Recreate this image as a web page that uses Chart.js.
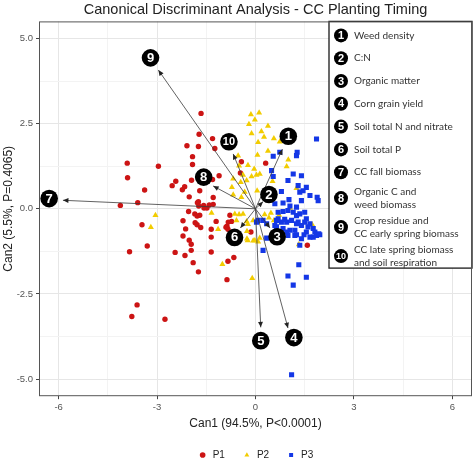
<!DOCTYPE html>
<html>
<head>
<meta charset="utf-8">
<script src="https://cdn.jsdelivr.net/npm/chart.js@4.4.1/dist/chart.umd.min.js"></script>
<style>
  html, body { margin: 0; padding: 0; background: #fff; }
</style>
</head>
<body>
<canvas id="myChart" width="474" height="462"></canvas>
<script>
// scores per planting timing, [Can1, Can2]
var p1 = [
  [-1.66, 2.80], [-1.72, 2.19], [-1.31, 2.06], [-2.09, 1.85], [-1.74, 1.83], [-1.24, 1.77], [-1.92, 1.53], [-1.92, 1.30],
  [-3.91, 1.34], [-3.90, 0.91], [-2.96, 1.25], [-1.11, 0.97], [-2.43, 0.81], [-1.95, 0.84], [-1.31, 0.86], [-2.54, 0.68],
  [-2.16, 0.65], [-2.23, 0.56], [-3.38, 0.55], [-1.70, 0.53], [-2.02, 0.35], [-1.29, 0.33], [-1.74, 0.21], [-1.58, 0.10],
  [-1.41, 0.11], [-3.59, 0.18], [-4.12, 0.10], [-1.77, 0.18], [-1.73, 0.08], [-1.57, 0.02], [-1.48, 0.02], [-1.29, 0.13],
  [-2.04, -0.08], [-1.85, -0.15], [-1.78, -0.21], [-1.70, -0.19], [-2.21, -0.35], [-1.20, -0.37], [-1.84, -0.41], [-1.78, -0.47],
  [-1.67, -0.55], [-2.13, -0.59], [-1.35, -0.60], [-3.46, -0.47], [-2.21, -0.80], [-1.35, -0.83], [-2.02, -0.92], [-1.96, -1.04],
  [-1.96, -1.22], [-3.84, -1.26], [-3.30, -1.09], [-2.45, -1.28], [-2.15, -1.37], [-1.35, -1.27], [-1.90, -1.58], [-1.74, -1.85],
  [-3.61, -2.82], [-3.77, -3.16], [-2.76, -3.24], [-0.84, -1.54], [-0.66, -1.43], [-0.87, -2.08], [-0.87, -0.51], [-0.84, -0.60],
  [-0.73, -0.37], [-0.78, -0.19], [-0.83, -0.39], [-0.90, -0.54], [-0.43, 1.38], [0.31, 1.34], [-0.46, 1.05], [-0.14, -0.68],
  [1.58, -1.07]
];
var p2 = [
  [-0.14, 2.77], [0.11, 2.82], [-0.02, 2.61], [-0.20, 2.48], [0.38, 2.43], [-0.12, 2.21], [0.18, 2.27], [0.56, 2.06],
  [0.26, 2.11], [0.08, 1.95], [0.74, 1.97], [0.38, 1.70], [0.06, 1.58], [1.00, 1.44], [0.95, 1.24], [-0.53, 1.56],
  [-0.50, 1.26], [-0.23, 1.28], [-0.04, 1.17], [-0.38, 0.99], [-0.12, 0.95], [0.03, 0.99], [0.13, 1.02], [-0.68, 0.88],
  [-0.45, 0.78], [-0.27, 0.83], [0.05, 0.53], [-0.72, 0.63], [-0.68, 0.41], [-0.43, 0.34], [-0.33, 0.49], [0.52, 0.81],
  [1.25, 0.60], [-1.34, -0.12], [-0.63, -0.15], [-0.50, -0.17], [-0.38, -0.15], [-0.27, -0.37], [-0.23, -0.45], [-0.07, -0.34],
  [0.28, -0.17], [0.41, -0.26], [0.47, -0.12], [0.56, -0.34], [-0.26, -0.88], [-0.07, -0.94], [-0.26, -0.66], [-1.14, -0.60],
  [1.05, 0.02], [0.72, -0.18], [1.30, -0.44], [-0.02, -0.93], [0.08, -0.97], [0.13, -0.86], [-0.10, -2.04], [1.32, -1.05],
  [1.73, -0.47], [-3.05, -0.19], [-3.19, -0.54], [-1.01, -1.63], [-0.58, -0.34], [-0.24, -0.93]
];
var p3 = [
  [1.86, 2.05], [1.27, 1.66], [1.25, 1.56], [0.54, 1.54], [0.74, 1.66], [0.49, 1.12], [0.54, 0.95], [0.99, 0.83],
  [1.15, 1.02], [1.40, 0.97], [0.79, 0.51], [1.02, 0.27], [1.30, 0.68], [1.35, 0.49], [1.45, 0.53], [1.55, 0.63],
  [1.88, 0.34], [1.91, 0.24], [1.66, 0.39], [0.59, 0.15], [0.84, 0.17], [1.25, 0.05], [1.40, 0.24], [1.05, 0.08],
  [0.69, -0.10], [0.84, -0.08], [0.99, -0.05], [1.15, -0.10], [1.35, -0.15], [1.50, -0.10], [1.55, -0.29], [1.25, -0.20],
  [0.08, -0.34], [0.23, -0.34], [0.64, -0.34], [0.79, -0.39], [0.95, -0.39], [1.10, -0.34], [0.69, -0.29], [0.89, -0.31],
  [1.30, -0.39], [1.50, -0.39], [1.25, -0.44], [1.40, -0.49], [1.60, -0.53], [1.76, -0.58], [1.66, -0.44], [0.34, -0.44],
  [0.03, -0.39], [0.64, -0.53], [0.84, -0.58], [1.05, -0.63], [1.20, -0.63], [0.59, -0.49], [1.55, -0.68], [1.81, -0.68],
  [0.74, -0.73], [0.99, -0.78], [1.20, -0.78], [0.95, -0.68], [1.25, -0.76], [1.48, -0.76], [1.76, -0.83], [1.96, -0.76],
  [1.86, -0.78], [1.66, -0.83], [1.93, -0.73], [1.40, -0.88], [0.34, -0.86], [0.23, -1.22], [1.35, -1.07], [1.32, -1.64],
  [0.99, -1.97], [1.55, -2.01], [1.15, -2.24], [1.10, -4.87]
];

// variable loadings (arrow tips) and where their number sits
var arrowX = [0.82, 0.23, 0.44, 0.99, 0.16, -0.46, -5.87, -1.29, -2.96, -0.68];
var arrowY = [1.75, 0.21, -0.56, -3.50, -3.48, -0.56, 0.25, 0.67, 4.07, 1.61];
var labelX = [1.00, 0.41, 0.66, 1.17, 0.16, -0.64, -6.29, -1.58, -3.20, -0.81];
var labelY = [2.13, 0.42, -0.82, -3.78, -3.87, -0.84, 0.30, 0.93, 4.43, 1.97];
var varNames = [
  'Weed density', 'C:N', 'Organic matter', 'Corn grain yield', 'Soil total N and nitrate',
  'Soil total P', 'CC fall biomass', 'Organic C and\nweed biomass',
  'Crop residue and\nCC early spring biomass', 'CC late spring biomass\nand soil respiration'
];

var xTicks = [-6, -4.5, -3, -1.5, 0, 1.5, 3, 4.5, 6];
var xMajor = [-6, -3, 0, 3, 6];
var yTicks = [-5, -3.75, -2.5, -1.25, 0, 1.25, 2.5, 3.75, 5];
var yMajor = [-5, -2.5, 0, 2.5, 5];

Chart.defaults.font.family = "'Liberation Sans', Arial, sans-serif";

function toPoints(list) {
  return list.map(function (p) { return {x: p[0], y: p[1]}; });
}

var datasets = [
  {label: 'P1', data: toPoints(p1), pointStyle: 'circle', pointRadius: 2.7, backgroundColor: '#cc1414', borderWidth: 0, order: 3},
  {label: 'P2', data: toPoints(p2), pointStyle: 'triangle', pointRadius: 3.5, backgroundColor: '#f2cc00', borderWidth: 0, order: 2},
  {label: 'P3', data: toPoints(p3), pointStyle: 'rect', pointRadius: 3.6, backgroundColor: '#1437e6', borderWidth: 0, order: 1}
];
arrowX.forEach(function (x, i) {
  datasets.push({
    label: 'arrow' + (i + 1), isArrow: true,
    data: [{x: 0, y: 0}, {x: x, y: arrowY[i]}],
    showLine: true, borderColor: '#3a3a3a', borderWidth: 0.8, pointRadius: 0, order: 0
  });
});
datasets.push({
  label: 'numbers', isLabel: true,
  data: labelX.map(function (x, i) { return {x: x, y: labelY[i]}; }),
  pointStyle: 'circle', pointRadius: 8.8, backgroundColor: '#000', borderWidth: 0, order: -1
});

var overlay = {
  id: 'overlay',
  afterDatasetsDraw: function (chart) {
    var c = chart.ctx;
    c.save();
    chart.data.datasets.forEach(function (ds, i) {
      var meta = chart.getDatasetMeta(i);
      if (ds.isArrow) {
        var a = meta.data[0], b = meta.data[1];
        var ang = Math.atan2(b.y - a.y, b.x - a.x);
        c.fillStyle = '#222';
        c.beginPath();
        c.moveTo(b.x, b.y);
        c.lineTo(b.x - 6 * Math.cos(ang - 0.42), b.y - 6 * Math.sin(ang - 0.42));
        c.lineTo(b.x - 6 * Math.cos(ang + 0.42), b.y - 6 * Math.sin(ang + 0.42));
        c.closePath();
        c.fill();
      }
      if (ds.isLabel) {
        c.fillStyle = '#fff';
        c.textAlign = 'center';
        c.textBaseline = 'middle';
        meta.data.forEach(function (pt, k) {
          c.font = 'bold ' + (k === 9 ? 11 : 13) + "px 'Liberation Sans', Arial";
          c.fillText(String(k + 1), pt.x, pt.y + 0.5);
        });
      }
    });
    c.restore();
  },
  afterDraw: function (chart) {
    var c = chart.ctx;
    var area = chart.chartArea;
    c.save();
    // key box for the numbered variables
    var boxW = 143;
    var L = area.right - boxW, T = area.top;
    var centers = [], y = T + 14, prevH = 0;
    varNames.forEach(function (name, i) {
      var h = name.indexOf('\n') >= 0 ? 29 : 22.8;
      if (i > 0) y += (prevH + h) / 2;
      centers.push(y);
      prevH = h;
    });
    var B = centers[centers.length - 1] + 12;
    c.fillStyle = '#fff';
    c.fillRect(L, T, boxW, B - T);
    c.strokeStyle = '#1a1a1a';
    c.lineWidth = 1.3;
    c.strokeRect(L, T, boxW, B - T);
    varNames.forEach(function (name, i) {
      var cy = centers[i];
      c.fillStyle = '#000';
      c.beginPath();
      c.arc(L + 12, cy, 7, 0, Math.PI * 2);
      c.fill();
      c.fillStyle = '#fff';
      c.textAlign = 'center';
      c.textBaseline = 'middle';
      c.font = 'bold ' + (i === 9 ? 9 : 11) + "px 'Liberation Sans', Arial";
      c.fillText(String(i + 1), L + 12, cy + 0.5);
      var lines = name.split('\n');
      c.fillStyle = '#333';
      c.textAlign = 'left';
      c.font = "10px Lato, 'Open Sans', sans-serif";
      lines.forEach(function (ln, k) {
        c.fillText(ln, L + 25, cy - (lines.length - 1) * 6.5 + k * 13);
      });
    });
    // panel border
    c.strokeStyle = '#555';
    c.lineWidth = 1;
    c.strokeRect(area.left + 0.5, area.top + 0.5, area.right - area.left - 1, area.bottom - area.top - 1);
    c.restore();
  }
};

function isIn(list, v) {
  return list.some(function (m) { return Math.abs(m - v) < 1e-6; });
}

var ctx = document.getElementById('myChart').getContext('2d');
var myChart = new Chart(ctx, {
  type: 'scatter',
  data: { datasets: datasets },
  plugins: [overlay],
  options: {
    responsive: false,
    animation: false,
    events: [],
    layout: { autoPadding: false, padding: { left: 1, right: 2, top: 0, bottom: 2 } },
    plugins: {
      tooltip: { enabled: false },
      title: {
        display: true,
        fullSize: false,
        text: 'Canonical Discriminant Analysis - CC Planting Timing',
        color: '#222',
        font: { size: 14.5, weight: 'normal' },
        padding: { top: 1, bottom: 3 }
      },
      legend: {
        position: 'bottom',
        fullSize: false,
        maxHeight: 27,
        labels: {
          usePointStyle: true,
          boxHeight: 4,
          boxWidth: 10,
          padding: 17,
          color: '#222',
          font: { size: 10 },
          filter: function (item) { return item.datasetIndex < 3; },
          sort: function (a, b) { return a.datasetIndex - b.datasetIndex; }
        }
      }
    },
    scales: {
      x: {
        type: 'linear',
        min: -6.6,
        max: 6.6,
        afterBuildTicks: function (scale) {
          scale.ticks = xTicks.map(function (v) { return {value: v}; });
        },
        border: { display: false },
        grid: {
          color: function (c) { return c.tick && isIn(xMajor, c.tick.value) ? '#e6e6e6' : '#f3f3f3'; },
          tickColor: function (c) { return c.tick && isIn(xMajor, c.tick.value) ? '#444' : 'rgba(0,0,0,0)'; },
          tickLength: 3
        },
        ticks: {
          autoSkip: false,
          maxRotation: 0,
          padding: 2,
          color: '#555',
          font: { size: 9.5 },
          callback: function (v) { return isIn(xMajor, v) ? String(v) : ''; }
        },
        title: {
          display: true,
          text: 'Can1 (94.5%, P<0.0001)',
          color: '#222',
          font: { size: 12 },
          padding: { top: 2, bottom: 2 }
        }
      },
      y: {
        type: 'linear',
        min: -5.5,
        max: 5.5,
        afterBuildTicks: function (scale) {
          scale.ticks = yTicks.map(function (v) { return {value: v}; });
        },
        afterFit: function (scale) { scale.width = 38; },
        border: { display: false },
        grid: {
          color: function (c) { return c.tick && isIn(yMajor, c.tick.value) ? '#e6e6e6' : '#f3f3f3'; },
          tickColor: function (c) { return c.tick && isIn(yMajor, c.tick.value) ? '#444' : 'rgba(0,0,0,0)'; },
          tickLength: 3
        },
        ticks: {
          autoSkip: false,
          padding: 3,
          color: '#555',
          font: { size: 9.5 },
          callback: function (v) { return isIn(yMajor, v) ? v.toFixed(1) : ''; }
        },
        title: {
          display: true,
          text: 'Can2 (5.5%, P=0.4065)',
          color: '#222',
          font: { size: 12 },
          padding: 0
        }
      }
    }
  }
});
</script>
</body>
</html>
